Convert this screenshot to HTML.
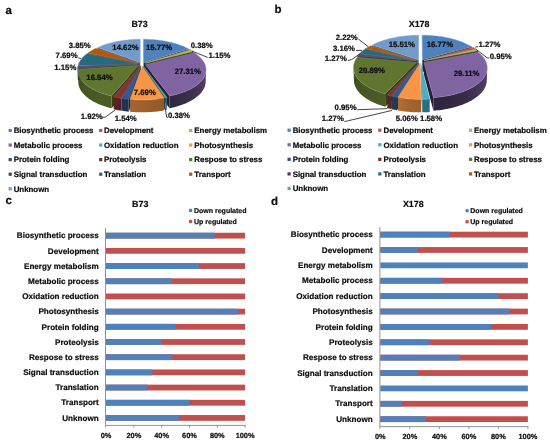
<!DOCTYPE html>
<html><head><meta charset="utf-8"><title>Figure</title>
<style>html,body{margin:0;padding:0;background:#fff}svg{display:block;filter:blur(0.35px)}text{stroke:#0c0c0c;stroke-width:.2px;text-rendering:geometricPrecision}</style></head>
<body>
<svg width="550" height="444" viewBox="0 0 550 444" font-family="'Liberation Sans', sans-serif" font-weight="bold" fill="#0c0c0c">
<defs><linearGradient id="wa3_26" gradientUnits="userSpaceOnUse" x1="206.06" y1="0" x2="169.63" y2="0"><stop offset="0" stop-color="#56436d"/><stop offset="0.04" stop-color="#4f3e64"/><stop offset="0.17" stop-color="#48385b"/><stop offset="0.37" stop-color="#3f3150"/><stop offset="0.65" stop-color="#372b45"/><stop offset="1" stop-color="#322740"/></linearGradient>
<linearGradient id="wa8_0" gradientUnits="userSpaceOnUse" x1="111.47" y1="0" x2="77.94" y2="0"><stop offset="0" stop-color="#4a5b25"/><stop offset="0.35" stop-color="#4a5b25"/><stop offset="0.63" stop-color="#475724"/><stop offset="0.83" stop-color="#445422"/><stop offset="0.95" stop-color="#404e20"/><stop offset="1" stop-color="#3b491e"/></linearGradient>
<linearGradient id="wa7_0" gradientUnits="userSpaceOnUse" x1="121.48" y1="0" x2="113.5" y2="0"><stop offset="0" stop-color="#551f1e"/><stop offset="0.51" stop-color="#59211f"/><stop offset="1" stop-color="#5c2221"/></linearGradient>
<linearGradient id="wa5_0" gradientUnits="userSpaceOnUse" x1="164.29" y1="0" x2="130.03" y2="0"><stop offset="0" stop-color="#93592a"/><stop offset="0.32" stop-color="#985d2b"/><stop offset="0.66" stop-color="#9f602d"/><stop offset="1" stop-color="#a5642f"/></linearGradient>
<linearGradient id="wb8_0" gradientUnits="userSpaceOnUse" x1="385.08" y1="0" x2="353.5" y2="0"><stop offset="0" stop-color="#4c5e26"/><stop offset="0.35" stop-color="#495a25"/><stop offset="0.64" stop-color="#465724"/><stop offset="0.84" stop-color="#435322"/><stop offset="0.96" stop-color="#3f4e20"/><stop offset="1" stop-color="#3b491e"/></linearGradient>
<linearGradient id="wb3_22" gradientUnits="userSpaceOnUse" x1="487.21" y1="0" x2="433.5" y2="0"><stop offset="0" stop-color="#56436d"/><stop offset="0.03" stop-color="#4f3d64"/><stop offset="0.12" stop-color="#48385b"/><stop offset="0.27" stop-color="#3f3150"/><stop offset="0.47" stop-color="#362a45"/><stop offset="0.72" stop-color="#322740"/><stop offset="1" stop-color="#2f243b"/></linearGradient>
<linearGradient id="wb5_0" gradientUnits="userSpaceOnUse" x1="421.26" y1="0" x2="397.84" y2="0"><stop offset="0" stop-color="#9e602d"/><stop offset="0.51" stop-color="#a4642e"/><stop offset="1" stop-color="#b56e33"/></linearGradient></defs>
<rect width="550" height="444" fill="#fff"/>
<text x="5.4" y="13.6" font-size="11.5">a</text>
<text x="274.4" y="13.1" font-size="11.5">b</text>
<text x="5.6" y="204.1" font-size="11.5">c</text>
<text x="270.9" y="205.3" font-size="11.5">d</text>
<g><polygon points="140.1,62.51 97.73,47.56 98,58.61 140.11,73.99" fill="#3f556f"/>
<polygon points="140.1,62.51 140.34,39.25 140.35,50.05 140.11,73.99" fill="#222e3d"/>
<polygon points="140.1,62.51 97.73,47.56 98.7,47.11 99.7,46.67 100.7,46.25 101.73,45.84 102.77,45.43 103.83,45.05 104.91,44.67 106,44.31 107.1,43.95 108.22,43.61 109.35,43.29 110.49,42.97 111.65,42.67 112.82,42.38 113.99,42.1 115.18,41.84 116.38,41.59 117.59,41.35 118.81,41.12 120.03,40.91 121.26,40.71 122.5,40.52 123.75,40.35 125,40.18 126.26,40.03 127.53,39.9 128.79,39.77 130.07,39.66 131.34,39.57 132.62,39.48 133.91,39.41 135.19,39.35 136.48,39.31 137.77,39.27 139.05,39.26 140.34,39.25" fill="#729ACA" stroke="#91b0d6" stroke-width="0.45" stroke-linejoin="round"/>
<polygon points="143.62,62.53 143.36,39.27 143.35,50.08 143.61,74.02" fill="#2b4768"/>
<polygon points="143.62,62.53 188.64,48.91 188.35,60.01 143.61,74.02" fill="#182739"/>
<polygon points="143.62,62.53 143.36,39.27 144.68,39.28 146,39.3 147.31,39.33 148.63,39.38 149.94,39.44 151.25,39.51 152.56,39.6 153.86,39.7 155.16,39.82 156.46,39.95 157.75,40.09 159.04,40.25 160.31,40.42 161.59,40.6 162.85,40.79 164.11,41 165.36,41.23 166.6,41.46 167.83,41.71 169.05,41.98 170.26,42.25 171.46,42.54 172.65,42.84 173.82,43.16 174.98,43.49 176.13,43.83 177.27,44.18 178.39,44.55 179.49,44.93 180.58,45.32 181.65,45.73 182.71,46.15 183.74,46.58 184.76,47.02 185.76,47.48 186.74,47.94 187.7,48.42 188.64,48.91" fill="#4F81BD" stroke="#769dcc" stroke-width="0.45" stroke-linejoin="round"/>
<polygon points="145.04,63.14 190.94,49.89 190.64,61.01 145.02,74.65" fill="#3a1817"/>
<polygon points="145.04,63.14 190.09,49.42 190.51,49.65 190.94,49.89" fill="#C0504D" stroke="#ce7674" stroke-width="0.45" stroke-linejoin="round"/>
<polygon points="138.49,63.2 87.84,52.97 88.16,64.19 138.51,74.7" fill="#643004"/>
<polygon points="138.49,63.2 87.84,52.97 88.57,52.44 89.33,51.92 90.11,51.41 90.9,50.92 91.72,50.43 92.56,49.94 93.42,49.47 94.29,49.02 95.19,48.57 96.1,48.13" fill="#B65708" stroke="#c67c3e" stroke-width="0.45" stroke-linejoin="round"/>
<polygon points="145.14,63.21 193.49,51.41 193.18,62.58 145.12,74.72" fill="#2e381b"/>
<polygon points="145.14,63.21 191.04,49.95 191.88,50.43 192.69,50.91 193.49,51.41" fill="#9BBB59" stroke="#b1ca7e" stroke-width="0.45" stroke-linejoin="round"/>
<polygon points="138,63.8 78.04,65.83 78.42,77.42 138.02,75.32" fill="#153a44"/>
<polygon points="138,63.8 78.04,65.83 78.22,65.12 78.44,64.41 78.69,63.71 78.98,63.01 79.31,62.32 79.67,61.64 80.06,60.96 80.49,60.29 80.95,59.63 81.44,58.98 81.97,58.33 82.52,57.7 83.11,57.07 83.72,56.45 84.36,55.84 85.03,55.24 85.73,54.65 86.46,54.07 87.21,53.5" fill="#276A7C" stroke="#578b99" stroke-width="0.45" stroke-linejoin="round"/>
<polygon points="137.95,64.3 77.5,68.41 77.89,80.06 137.98,75.83" fill="#2a2036"/>
<polygon points="137.95,64.3 77.5,68.41 77.57,67.71 77.67,67.03 77.81,66.34" fill="#5a4573" stroke="#746685" stroke-width="0.45" stroke-linejoin="round"/>
<polygon points="145.41,64.76 169.63,95.97 169.46,108.35 145.39,76.31" fill="#261e31"/>
<polygon points="206.06,70.26 206.01,71.02 205.93,71.78 205.8,72.55 205.62,73.31 205.4,74.08 205.14,74.85 204.83,75.61 204.47,76.38 204.07,77.14 203.63,77.9 203.13,78.66 202.59,79.41 202.01,80.16 201.37,80.9 200.69,81.64 199.96,82.37 199.19,83.09 198.37,83.81 197.5,84.51 196.59,85.21 195.63,85.89 194.63,86.57 193.58,87.23 192.48,87.88 191.34,88.52 190.16,89.14 188.94,89.75 187.68,90.34 186.37,90.92 185.02,91.48 183.64,92.02 182.22,92.54 180.76,93.04 179.26,93.53 177.73,93.99 176.17,94.43 174.58,94.85 172.96,95.25 171.31,95.62 169.63,95.97 169.46,108.35 171.13,107.99 172.77,107.61 174.38,107.2 175.97,106.77 177.52,106.31 179.04,105.84 180.52,105.35 181.97,104.83 183.39,104.29 184.76,103.74 186.1,103.17 187.4,102.58 188.66,101.97 189.87,101.35 191.05,100.71 192.18,100.05 193.27,99.39 194.31,98.71 195.31,98.01 196.26,97.31 197.17,96.6 198.03,95.87 198.85,95.14 199.62,94.39 200.34,93.64 201.02,92.89 201.64,92.13 202.23,91.36 202.77,90.58 203.26,89.81 203.7,89.03 204.1,88.24 204.45,87.46 204.76,86.67 205.02,85.89 205.24,85.1 205.41,84.31 205.54,83.53 205.63,82.74 205.67,81.96" fill="url(#wa3_26)"/>
<polygon points="145.41,64.76 194.17,52.74 195.01,53.3 195.83,53.87 196.62,54.45 197.39,55.04 198.13,55.64 198.84,56.25 199.53,56.88 200.18,57.51 200.8,58.15 201.39,58.8 201.95,59.46 202.48,60.13 202.98,60.81 203.44,61.5 203.86,62.19 204.25,62.9 204.61,63.61 204.92,64.32 205.2,65.05 205.45,65.78 205.65,66.51 205.81,67.25 205.94,68 206.02,68.75 206.06,69.5 206.06,70.26 206.01,71.02 205.93,71.78 205.8,72.55 205.62,73.31 205.4,74.08 205.14,74.85 204.83,75.61 204.47,76.38 204.07,77.14 203.63,77.9 203.13,78.66 202.59,79.41 202.01,80.16 201.37,80.9 200.69,81.64 199.96,82.37 199.19,83.09 198.37,83.81 197.5,84.51 196.59,85.21 195.63,85.89 194.63,86.57 193.58,87.23 192.48,87.88 191.34,88.52 190.16,89.14 188.94,89.75 187.68,90.34 186.37,90.92 185.02,91.48 183.64,92.02 182.22,92.54 180.76,93.04 179.26,93.53 177.73,93.99 176.17,94.43 174.58,94.85 172.96,95.25 171.31,95.62 169.63,95.97" fill="#8064A2" stroke="#9c86b6" stroke-width="0.45" stroke-linejoin="round"/>
<polygon points="138.74,65.22 111.47,95.95 111.65,108.33 138.76,76.78" fill="#34401a"/>
<polygon points="111.47,95.95 109.84,95.55 108.24,95.14 106.66,94.7 105.13,94.23 103.62,93.75 102.15,93.25 100.72,92.73 99.32,92.19 97.96,91.63 96.65,91.05 95.37,90.46 94.13,89.85 92.94,89.23 91.79,88.59 90.69,87.94 89.62,87.27 88.61,86.59 87.64,85.91 86.71,85.21 85.83,84.5 85,83.78 84.21,83.06 83.47,82.32 82.78,81.58 82.14,80.84 81.54,80.09 80.99,79.33 80.48,78.57 80.02,77.81 79.61,77.04 79.24,76.27 78.92,75.5 78.65,74.73 78.42,73.96 78.23,73.19 78.09,72.42 78,71.66 77.94,70.89 78.33,82.61 78.38,83.4 78.48,84.19 78.62,84.98 78.8,85.77 79.03,86.56 79.3,87.35 79.62,88.14 79.98,88.93 80.39,89.71 80.85,90.5 81.35,91.28 81.9,92.05 82.49,92.82 83.14,93.59 83.82,94.35 84.56,95.1 85.34,95.85 86.17,96.58 87.04,97.31 87.96,98.03 88.93,98.73 89.94,99.43 90.99,100.11 92.09,100.78 93.23,101.43 94.42,102.07 95.65,102.69 96.92,103.3 98.23,103.89 99.58,104.47 100.96,105.02 102.39,105.56 103.85,106.07 105.35,106.57 106.88,107.04 108.44,107.49 110.03,107.92 111.65,108.33" fill="url(#wa8_0)"/>
<polygon points="138.74,65.22 111.47,95.95 109.84,95.55 108.24,95.14 106.66,94.7 105.13,94.23 103.62,93.75 102.15,93.25 100.72,92.73 99.32,92.19 97.96,91.63 96.65,91.05 95.37,90.46 94.13,89.85 92.94,89.23 91.79,88.59 90.69,87.94 89.62,87.27 88.61,86.59 87.64,85.91 86.71,85.21 85.83,84.5 85,83.78 84.21,83.06 83.47,82.32 82.78,81.58 82.14,80.84 81.54,80.09 80.99,79.33 80.48,78.57 80.02,77.81 79.61,77.04 79.24,76.27 78.92,75.5 78.65,74.73 78.42,73.96 78.23,73.19 78.09,72.42 78,71.66 77.94,70.89 77.93,70.13 77.96,69.37" fill="#5F7530" stroke="#82935e" stroke-width="0.45" stroke-linejoin="round"/>
<polygon points="143.05,65.82 165.43,97.78 165.28,110.2 143.04,77.4" fill="#16343b"/>
<polygon points="167.01,97.47 166.22,97.63 165.43,97.78 165.28,110.2 166.07,110.04 166.85,109.88" fill="#2d6676"/>
<polygon points="143.05,65.82 167.01,97.47 166.22,97.63 165.43,97.78" fill="#4BACC6" stroke="#73bed3" stroke-width="0.45" stroke-linejoin="round"/>
<polygon points="140.55,65.82 121.48,98.34 121.6,110.77 140.56,77.4" fill="#411817"/>
<polygon points="121.48,98.34 119.84,98.07 118.23,97.79 116.63,97.48 115.06,97.15 113.5,96.8 113.67,109.19 115.22,109.55 116.78,109.89 118.37,110.21 119.98,110.5 121.6,110.77" fill="url(#wa7_0)"/>
<polygon points="140.55,65.82 121.48,98.34 119.84,98.07 118.23,97.79 116.63,97.48 115.06,97.15 113.5,96.8" fill="#8a3230" stroke="#955a59" stroke-width="0.45" stroke-linejoin="round"/>
<polygon points="140.96,65.87 128.69,99.26 128.76,111.72 140.96,77.46" fill="#182a40"/>
<polygon points="128.69,99.26 126.98,99.08 125.29,98.88 123.62,98.66 121.96,98.42 122.08,110.85 123.73,111.1 125.39,111.33 127.07,111.54 128.76,111.72" fill="#1e3551"/>
<polygon points="140.96,65.87 128.69,99.26 126.98,99.08 125.29,98.88 123.62,98.66 121.96,98.42" fill="#305a93" stroke="#5a7493" stroke-width="0.45" stroke-linejoin="round"/>
<polygon points="164.29,97.91 162.58,98.21 160.85,98.49 159.11,98.75 157.34,98.98 155.56,99.18 153.77,99.36 151.96,99.51 150.15,99.64 148.32,99.74 146.49,99.82 144.65,99.87 142.82,99.89 140.98,99.89 139.14,99.86 137.3,99.8 135.47,99.72 133.65,99.61 131.84,99.48 130.03,99.31 130.1,111.77 131.9,111.94 133.7,112.08 135.51,112.19 137.33,112.27 139.15,112.33 140.98,112.36 142.81,112.36 144.64,112.34 146.46,112.29 148.28,112.21 150.1,112.11 151.9,111.98 153.7,111.82 155.48,111.64 157.25,111.43 159,111.19 160.74,110.93 162.46,110.64 164.15,110.33" fill="url(#wa5_0)"/>
<polygon points="142.08,65.91 164.29,97.91 162.58,98.21 160.85,98.49 159.11,98.75 157.34,98.98 155.56,99.18 153.77,99.36 151.96,99.51 150.15,99.64 148.32,99.74 146.49,99.82 144.65,99.87 142.82,99.89 140.98,99.89 139.14,99.86 137.3,99.8 135.47,99.72 133.65,99.61 131.84,99.48 130.03,99.31" fill="#F79646" stroke="#f9ad6f" stroke-width="0.45" stroke-linejoin="round"/></g>
<g><polygon points="418.53,59.79 372.18,45.06 372.47,56.74 418.54,71.89" fill="#3f556f"/>
<polygon points="418.53,59.79 418.8,35.19 418.81,46.58 418.54,71.89" fill="#222e3d"/>
<polygon points="418.53,59.79 372.18,45.06 373.16,44.56 374.15,44.07 375.17,43.59 376.21,43.12 377.26,42.67 378.33,42.23 379.42,41.8 380.53,41.38 381.66,40.98 382.8,40.59 383.95,40.22 385.12,39.85 386.31,39.51 387.51,39.17 388.72,38.85 389.94,38.54 391.17,38.24 392.42,37.96 393.67,37.69 394.94,37.43 396.21,37.19 397.5,36.96 398.79,36.75 400.09,36.55 401.4,36.36 402.71,36.19 404.03,36.03 405.35,35.89 406.68,35.75 408.02,35.64 409.36,35.53 410.7,35.44 412.04,35.36 413.39,35.3 414.74,35.25 416.09,35.22 417.44,35.2 418.8,35.19" fill="#729ACA" stroke="#91b0d6" stroke-width="0.45" stroke-linejoin="round"/>
<polygon points="422.41,59.82 422.12,35.22 422.11,46.61 422.4,71.93" fill="#2b4768"/>
<polygon points="422.41,59.82 471.62,46.72 471.31,58.45 422.4,71.93" fill="#182739"/>
<polygon points="422.41,59.82 422.12,35.22 423.48,35.22 424.83,35.25 426.19,35.28 427.54,35.33 428.89,35.39 430.24,35.47 431.58,35.56 432.92,35.66 434.26,35.78 435.6,35.91 436.92,36.06 438.25,36.22 439.56,36.39 440.87,36.58 442.18,36.78 443.47,37 444.76,37.23 446.03,37.47 447.3,37.73 448.56,38 449.81,38.28 451.05,38.58 452.27,38.89 453.48,39.21 454.68,39.55 455.87,39.9 457.04,40.27 458.2,40.64 459.34,41.04 460.47,41.44 461.58,41.86 462.67,42.29 463.75,42.73 464.8,43.18 465.84,43.65 466.86,44.13 467.85,44.63 468.83,45.13 469.78,45.65 470.71,46.18 471.62,46.72" fill="#4F81BD" stroke="#769dcc" stroke-width="0.45" stroke-linejoin="round"/>
<polygon points="416.93,60.5 365.6,48.62 365.93,60.41 416.96,72.63" fill="#643004"/>
<polygon points="416.93,60.5 365.6,48.62 366.37,48.11 367.17,47.6 367.99,47.1 368.82,46.61 369.68,46.13 370.55,45.66" fill="#B65708" stroke="#c67c3e" stroke-width="0.45" stroke-linejoin="round"/>
<polygon points="423.96,60.58 475.95,49.14 475.62,60.94 423.94,72.71" fill="#3a1817"/>
<polygon points="423.96,60.58 473.26,47.37 473.95,47.8 474.63,48.24 475.3,48.68 475.95,49.14" fill="#C0504D" stroke="#ce7674" stroke-width="0.45" stroke-linejoin="round"/>
<polygon points="424.08,60.7 477.95,50.64 477.6,62.48 424.06,72.83" fill="#2e381b"/>
<polygon points="424.08,60.7 476.1,49.24 476.73,49.7 477.35,50.16 477.95,50.64" fill="#9BBB59" stroke="#b1ca7e" stroke-width="0.45" stroke-linejoin="round"/>
<polygon points="416.64,60.79 359.5,53.68 359.87,65.62 416.66,72.92" fill="#153a44"/>
<polygon points="416.64,60.79 359.5,53.68 360.13,53.05 360.78,52.42 361.46,51.81 362.16,51.2 362.89,50.6 363.65,50.02 364.44,49.44 365.24,48.87" fill="#276A7C" stroke="#578b99" stroke-width="0.45" stroke-linejoin="round"/>
<polygon points="416.48,61.04 357.46,56.02 357.84,68.02 416.5,73.18" fill="#2a2036"/>
<polygon points="416.48,61.04 357.46,56.02 357.88,55.49 358.32,54.96 358.79,54.43 359.27,53.92" fill="#5a4573" stroke="#746685" stroke-width="0.45" stroke-linejoin="round"/>
<polygon points="416.8,62.33 385.08,93.82 385.29,106.83 416.82,74.5" fill="#34401a"/>
<polygon points="385.08,93.82 383.46,93.37 381.87,92.89 380.32,92.39 378.81,91.87 377.33,91.32 375.88,90.76 374.48,90.18 373.12,89.58 371.8,88.97 370.52,88.34 369.29,87.69 368.1,87.03 366.95,86.35 365.85,85.66 364.79,84.96 363.79,84.25 362.82,83.52 361.91,82.78 361.04,82.04 360.22,81.29 359.44,80.52 358.72,79.75 358.04,78.98 357.41,78.2 356.83,77.41 356.3,76.62 355.81,75.82 355.37,75.03 354.98,74.23 354.63,73.42 354.33,72.62 354.08,71.82 353.88,71.02 353.71,70.22 353.6,69.42 353.53,68.62 353.5,67.82 353.9,80.15 353.93,80.97 354,81.79 354.11,82.61 354.27,83.43 354.48,84.25 354.73,85.08 355.03,85.9 355.37,86.72 355.76,87.55 356.2,88.36 356.68,89.18 357.21,89.99 357.79,90.8 358.42,91.6 359.09,92.4 359.81,93.19 360.58,93.97 361.4,94.74 362.26,95.51 363.17,96.26 364.13,97.01 365.13,97.74 366.18,98.46 367.27,99.17 368.41,99.86 369.6,100.54 370.82,101.2 372.09,101.85 373.4,102.48 374.76,103.09 376.15,103.69 377.58,104.26 379.06,104.82 380.56,105.35 382.11,105.87 383.68,106.36 385.29,106.83" fill="url(#wb8_0)"/>
<polygon points="416.8,62.33 385.08,93.82 383.46,93.37 381.87,92.89 380.32,92.39 378.81,91.87 377.33,91.32 375.88,90.76 374.48,90.18 373.12,89.58 371.8,88.97 370.52,88.34 369.29,87.69 368.1,87.03 366.95,86.35 365.85,85.66 364.79,84.96 363.79,84.25 362.82,83.52 361.91,82.78 361.04,82.04 360.22,81.29 359.44,80.52 358.72,79.75 358.04,78.98 357.41,78.2 356.83,77.41 356.3,76.62 355.81,75.82 355.37,75.03 354.98,74.23 354.63,73.42 354.33,72.62 354.08,71.82 353.88,71.02 353.71,70.22 353.6,69.42 353.53,68.62 353.5,67.82 353.51,67.03 353.57,66.24 353.67,65.46 353.81,64.68 353.99,63.9 354.21,63.14 354.48,62.37 354.78,61.62 355.12,60.87 355.49,60.13 355.91,59.39 356.35,58.67 356.84,57.95 357.36,57.24" fill="#5F7530" stroke="#82935e" stroke-width="0.45" stroke-linejoin="round"/>
<polygon points="423.88,62.43 433.5,97.59 433.43,110.68 423.86,74.6" fill="#261e31"/>
<polygon points="487.21,68.4 487.15,69.21 487.05,70.03 486.9,70.84 486.71,71.65 486.47,72.47 486.18,73.29 485.84,74.1 485.46,74.91 485.03,75.73 484.54,76.53 484.01,77.34 483.43,78.14 482.8,78.94 482.12,79.73 481.39,80.51 480.62,81.29 479.79,82.05 478.91,82.81 477.99,83.56 477.02,84.3 476,85.03 474.93,85.74 473.81,86.44 472.65,87.13 471.44,87.81 470.18,88.46 468.89,89.11 467.54,89.73 466.16,90.34 464.73,90.93 463.27,91.5 461.76,92.05 460.21,92.57 458.63,93.08 457.02,93.57 455.36,94.03 453.68,94.47 451.97,94.88 450.22,95.27 448.45,95.63 446.65,95.97 444.83,96.28 442.99,96.57 441.12,96.83 439.24,97.06 437.34,97.26 435.43,97.44 433.5,97.59 433.43,110.68 435.34,110.53 437.24,110.35 439.13,110.14 441,109.91 442.85,109.64 444.69,109.35 446.5,109.03 448.28,108.68 450.04,108.31 451.78,107.91 453.48,107.49 455.16,107.04 456.8,106.56 458.4,106.07 459.98,105.55 461.51,105 463.01,104.44 464.47,103.86 465.88,103.25 467.26,102.63 468.59,101.99 469.89,101.33 471.13,100.66 472.33,99.97 473.49,99.26 474.6,98.54 475.66,97.81 476.68,97.06 477.64,96.3 478.56,95.54 479.43,94.76 480.26,93.97 481.03,93.17 481.75,92.37 482.43,91.56 483.05,90.74 483.63,89.92 484.16,89.09 484.64,88.26 485.07,87.43 485.45,86.6 485.79,85.76 486.07,84.92 486.31,84.08 486.51,83.25 486.65,82.41 486.75,81.58 486.81,80.74" fill="url(#wb3_22)"/>
<polygon points="423.88,62.43 478.26,52.17 479.03,52.81 479.78,53.46 480.49,54.13 481.17,54.8 481.82,55.49 482.44,56.18 483.02,56.89 483.57,57.6 484.08,58.33 484.56,59.06 485,59.8 485.4,60.55 485.77,61.31 486.09,62.07 486.38,62.84 486.62,63.62 486.83,64.41 486.99,65.2 487.11,65.99 487.19,66.79 487.22,67.6 487.21,68.4 487.15,69.21 487.05,70.03 486.9,70.84 486.71,71.65 486.47,72.47 486.18,73.29 485.84,74.1 485.46,74.91 485.03,75.73 484.54,76.53 484.01,77.34 483.43,78.14 482.8,78.94 482.12,79.73 481.39,80.51 480.62,81.29 479.79,82.05 478.91,82.81 477.99,83.56 477.02,84.3 476,85.03 474.93,85.74 473.81,86.44 472.65,87.13 471.44,87.81 470.18,88.46 468.89,89.11 467.54,89.73 466.16,90.34 464.73,90.93 463.27,91.5 461.76,92.05 460.21,92.57 458.63,93.08 457.02,93.57 455.36,94.03 453.68,94.47 451.97,94.88 450.22,95.27 448.45,95.63 446.65,95.97 444.83,96.28 442.99,96.57 441.12,96.83 439.24,97.06 437.34,97.26 435.43,97.44 433.5,97.59" fill="#8064A2" stroke="#9c86b6" stroke-width="0.45" stroke-linejoin="round"/>
<polygon points="418.79,63.21 391.15,96.04 391.32,109.1 418.8,75.41" fill="#411817"/>
<polygon points="391.15,96.04 389.83,95.72 388.52,95.4 387.24,95.05 387.44,108.09 388.71,108.44 390.01,108.77 391.32,109.1" fill="#5d2321"/>
<polygon points="418.79,63.21 391.15,96.04 389.83,95.72 388.52,95.4 387.24,95.05" fill="#8a3230" stroke="#955a59" stroke-width="0.45" stroke-linejoin="round"/>
<polygon points="419.05,63.26 396.92,97.22 397.06,110.31 419.06,75.46" fill="#182a40"/>
<polygon points="396.92,97.22 395.53,96.96 394.15,96.69 392.79,96.41 391.45,96.11 391.63,109.17 392.96,109.47 394.31,109.77 395.68,110.04 397.06,110.31" fill="#213a58"/>
<polygon points="419.05,63.26 396.92,97.22 395.53,96.96 394.15,96.69 392.79,96.41 391.45,96.11" fill="#305a93" stroke="#5a7493" stroke-width="0.45" stroke-linejoin="round"/>
<polygon points="420.69,63.36 422.28,99.24 422.27,112.37 420.68,75.57" fill="#16343b"/>
<polygon points="429.73,98.94 427.87,99.05 426.01,99.14 424.15,99.2 422.28,99.24 422.27,112.37 424.13,112.34 425.98,112.27 427.83,112.18 429.67,112.07" fill="#2f6c7d"/>
<polygon points="420.69,63.36 429.73,98.94 427.87,99.05 426.01,99.14 424.15,99.2 422.28,99.24" fill="#4BACC6" stroke="#73bed3" stroke-width="0.45" stroke-linejoin="round"/>
<polygon points="421.26,99.22 419.42,99.22 417.58,99.21 415.74,99.16 413.9,99.1 412.07,99 410.25,98.88 408.43,98.74 406.63,98.57 404.84,98.37 403.07,98.15 401.31,97.91 399.56,97.64 397.84,97.35 397.97,110.44 399.69,110.74 401.42,111.01 403.17,111.26 404.93,111.49 406.71,111.69 408.51,111.86 410.31,112.01 412.12,112.13 413.94,112.23 415.77,112.3 417.59,112.34 419.43,112.36 421.26,112.35" fill="url(#wb5_0)"/>
<polygon points="419.84,63.35 421.26,99.22 419.42,99.22 417.58,99.21 415.74,99.16 413.9,99.1 412.07,99 410.25,98.88 408.43,98.74 406.63,98.57 404.84,98.37 403.07,98.15 401.31,97.91 399.56,97.64 397.84,97.35" fill="#F79646" stroke="#f9ad6f" stroke-width="0.45" stroke-linejoin="round"/></g>
<text x="139.6" y="26.9" font-size="8.9" text-anchor="middle">B73</text>
<text x="419.1" y="26.5" font-size="8.9" text-anchor="middle">X178</text>
<text x="140.2" y="207.4" font-size="8.9" text-anchor="middle">B73</text>
<text x="413.3" y="206.8" font-size="8.9" text-anchor="middle">X178</text>
<text x="159.1" y="49.95" font-size="7.75" text-anchor="middle">15.77%</text>
<text x="125.5" y="49.85" font-size="7.75" text-anchor="middle">14.62%</text>
<text x="201.7" y="47.75" font-size="7.75" text-anchor="middle">0.38%</text>
<text x="219.5" y="57.95" font-size="7.75" text-anchor="middle">1.15%</text>
<text x="187.8" y="74.15" font-size="7.75" text-anchor="middle">27.31%</text>
<text x="144.8" y="94.55" font-size="7.75" text-anchor="middle">7.69%</text>
<text x="179" y="118.05" font-size="7.75" text-anchor="middle">0.38%</text>
<text x="125.7" y="121.25" font-size="7.75" text-anchor="middle">1.54%</text>
<text x="91.7" y="118.65" font-size="7.75" text-anchor="middle">1.92%</text>
<text x="99.5" y="80.05" font-size="7.75" text-anchor="middle">16.54%</text>
<text x="65.3" y="70.45" font-size="7.75" text-anchor="middle">1.15%</text>
<text x="66.6" y="58.25" font-size="7.75" text-anchor="middle">7.69%</text>
<text x="79.7" y="48.35" font-size="7.75" text-anchor="middle">3.85%</text>
<text x="439.9" y="47.35" font-size="7.75" text-anchor="middle">16.77%</text>
<text x="401.8" y="47.35" font-size="7.75" text-anchor="middle">15.51%</text>
<text x="489.5" y="47.45" font-size="7.75" text-anchor="middle">1.27%</text>
<text x="500.7" y="58.95" font-size="7.75" text-anchor="middle">0.95%</text>
<text x="466.6" y="75.55" font-size="7.75" text-anchor="middle">29.11%</text>
<text x="406.8" y="120.95" font-size="7.75" text-anchor="middle">5.06%</text>
<text x="431.1" y="120.95" font-size="7.75" text-anchor="middle">1.58%</text>
<text x="345.6" y="109.55" font-size="7.75" text-anchor="middle">0.95%</text>
<text x="332.8" y="121.35" font-size="7.75" text-anchor="middle">1.27%</text>
<text x="371.8" y="73.45" font-size="7.75" text-anchor="middle">20.89%</text>
<text x="335.8" y="60.75" font-size="7.75" text-anchor="middle">1.27%</text>
<text x="344" y="50.95" font-size="7.75" text-anchor="middle">3.16%</text>
<text x="346.7" y="40.05" font-size="7.75" text-anchor="middle">2.22%</text>
<polyline points="191.9,51.1 207.7,57.4" fill="none" stroke="#303030" stroke-width="0.9"/>
<polyline points="78.1,57.9 81,58.5" fill="none" stroke="#303030" stroke-width="0.9"/>
<polyline points="102.3,117.5 105.5,117 115.4,109.8" fill="none" stroke="#303030" stroke-width="0.9"/>
<polyline points="165.3,108.5 166.6,117.1 168,117.4" fill="none" stroke="#303030" stroke-width="0.9"/>
<polyline points="358.2,38.9 368,46.5" fill="none" stroke="#303030" stroke-width="0.9"/>
<polyline points="356,50.4 362,50.4" fill="none" stroke="#303030" stroke-width="0.9"/>
<polyline points="347.8,60.5 351.6,59.6 360.4,53.6" fill="none" stroke="#303030" stroke-width="0.9"/>
<polyline points="357.4,109.7 386.2,108.7 388.6,106.8" fill="none" stroke="#303030" stroke-width="0.9"/>
<polyline points="344.3,121.5 347.2,121 392.1,110.4" fill="none" stroke="#303030" stroke-width="0.9"/>
<polyline points="475.2,47.2 478.1,46.6" fill="none" stroke="#303030" stroke-width="0.9"/>
<polyline points="475.7,49.1 487.2,57.8 489.4,58" fill="none" stroke="#303030" stroke-width="0.9"/>
<rect x="8.6" y="128.9" width="3.2" height="3.2" fill="#4F81BD"/>
<text x="13.65" y="133.3" font-size="7.9">Biosynthetic process</text>
<rect x="99.1" y="128.9" width="3.2" height="3.2" fill="#C0504D"/>
<text x="103.95" y="133.3" font-size="7.9">Development</text>
<rect x="189.1" y="128.9" width="3.2" height="3.2" fill="#9BBB59"/>
<text x="194.35" y="133.3" font-size="7.9">Energy metabolism</text>
<rect x="8.6" y="143.47" width="3.2" height="3.2" fill="#8064A2"/>
<text x="13.65" y="147.87" font-size="7.9">Metabolic process</text>
<rect x="99.1" y="143.47" width="3.2" height="3.2" fill="#4BACC6"/>
<text x="103.95" y="147.87" font-size="7.9">Oxidation reduction</text>
<rect x="189.1" y="143.47" width="3.2" height="3.2" fill="#F79646"/>
<text x="194.35" y="147.87" font-size="7.9">Photosynthesis</text>
<rect x="8.6" y="158.04" width="3.2" height="3.2" fill="#2C4D75"/>
<text x="13.65" y="162.44" font-size="7.9">Protein folding</text>
<rect x="99.1" y="158.04" width="3.2" height="3.2" fill="#772C2A"/>
<text x="103.95" y="162.44" font-size="7.9">Proteolysis</text>
<rect x="189.1" y="158.04" width="3.2" height="3.2" fill="#5F7530"/>
<text x="194.35" y="162.44" font-size="7.9">Respose to stress</text>
<rect x="8.6" y="172.61" width="3.2" height="3.2" fill="#4D3B62"/>
<text x="13.65" y="177.01" font-size="7.9">Signal transduction</text>
<rect x="99.1" y="172.61" width="3.2" height="3.2" fill="#276A7C"/>
<text x="103.95" y="177.01" font-size="7.9">Translation</text>
<rect x="189.1" y="172.61" width="3.2" height="3.2" fill="#B65708"/>
<text x="194.35" y="177.01" font-size="7.9">Transport</text>
<rect x="8.6" y="187.18" width="3.2" height="3.2" fill="#729ACA"/>
<text x="13.65" y="191.58" font-size="7.9">Unknown</text>
<rect x="287.5" y="128.6" width="3.2" height="3.2" fill="#4F81BD"/>
<text x="292.65" y="133" font-size="7.9">Biosynthetic process</text>
<rect x="378.2" y="128.6" width="3.2" height="3.2" fill="#C0504D"/>
<text x="383.45" y="133" font-size="7.9">Development</text>
<rect x="469" y="128.6" width="3.2" height="3.2" fill="#9BBB59"/>
<text x="473.95" y="133" font-size="7.9">Energy metabolism</text>
<rect x="287.5" y="143.17" width="3.2" height="3.2" fill="#8064A2"/>
<text x="292.65" y="147.57" font-size="7.9">Metabolic process</text>
<rect x="378.2" y="143.17" width="3.2" height="3.2" fill="#4BACC6"/>
<text x="383.45" y="147.57" font-size="7.9">Oxidation reduction</text>
<rect x="469" y="143.17" width="3.2" height="3.2" fill="#F79646"/>
<text x="473.95" y="147.57" font-size="7.9">Photosynthesis</text>
<rect x="287.5" y="157.74" width="3.2" height="3.2" fill="#2C4D75"/>
<text x="292.65" y="162.14" font-size="7.9">Protein folding</text>
<rect x="378.2" y="157.74" width="3.2" height="3.2" fill="#772C2A"/>
<text x="383.45" y="162.14" font-size="7.9">Proteolysis</text>
<rect x="469" y="157.74" width="3.2" height="3.2" fill="#5F7530"/>
<text x="473.95" y="162.14" font-size="7.9">Respose to stress</text>
<rect x="287.5" y="172.31" width="3.2" height="3.2" fill="#4D3B62"/>
<text x="292.65" y="176.71" font-size="7.9">Signal transduction</text>
<rect x="378.2" y="172.31" width="3.2" height="3.2" fill="#276A7C"/>
<text x="383.45" y="176.71" font-size="7.9">Translation</text>
<rect x="469" y="172.31" width="3.2" height="3.2" fill="#B65708"/>
<text x="473.95" y="176.71" font-size="7.9">Transport</text>
<rect x="287.5" y="186.88" width="3.2" height="3.2" fill="#729ACA"/>
<text x="292.65" y="191.28" font-size="7.9">Unknown</text>
<rect x="106" y="232.75" width="139.1" height="5.8" fill="#C0504D"/>
<rect x="106" y="232.75" width="108.57" height="5.8" fill="#4F81BD"/>
<text x="98.7" y="238.4" font-size="8.1" text-anchor="end">Biosynthetic process</text>
<rect x="106" y="247.94" width="139.1" height="5.8" fill="#C0504D"/>
<text x="98.7" y="253.59" font-size="8.1" text-anchor="end">Development</text>
<rect x="106" y="263.13" width="139.1" height="5.8" fill="#C0504D"/>
<rect x="106" y="263.13" width="92.78" height="5.8" fill="#4F81BD"/>
<text x="98.7" y="268.78" font-size="8.1" text-anchor="end">Energy metabolism</text>
<rect x="106" y="278.32" width="139.1" height="5.8" fill="#C0504D"/>
<rect x="106" y="278.32" width="65.66" height="5.8" fill="#4F81BD"/>
<text x="98.7" y="283.97" font-size="8.1" text-anchor="end">Metabolic process</text>
<rect x="106" y="293.51" width="139.1" height="5.8" fill="#C0504D"/>
<text x="98.7" y="299.16" font-size="8.1" text-anchor="end">Oxidation reduction</text>
<rect x="106" y="308.7" width="139.1" height="5.8" fill="#C0504D"/>
<rect x="106" y="308.7" width="132.15" height="5.8" fill="#4F81BD"/>
<text x="98.7" y="314.35" font-size="8.1" text-anchor="end">Photosynthesis</text>
<rect x="106" y="323.89" width="139.1" height="5.8" fill="#C0504D"/>
<rect x="106" y="323.89" width="69.55" height="5.8" fill="#4F81BD"/>
<text x="98.7" y="329.54" font-size="8.1" text-anchor="end">Protein folding</text>
<rect x="106" y="339.08" width="139.1" height="5.8" fill="#C0504D"/>
<rect x="106" y="339.08" width="55.64" height="5.8" fill="#4F81BD"/>
<text x="98.7" y="344.73" font-size="8.1" text-anchor="end">Proteolysis</text>
<rect x="106" y="354.27" width="139.1" height="5.8" fill="#C0504D"/>
<rect x="106" y="354.27" width="66.21" height="5.8" fill="#4F81BD"/>
<text x="98.7" y="359.92" font-size="8.1" text-anchor="end">Respose to stress</text>
<rect x="106" y="369.46" width="139.1" height="5.8" fill="#C0504D"/>
<rect x="106" y="369.46" width="46.32" height="5.8" fill="#4F81BD"/>
<text x="98.7" y="375.11" font-size="8.1" text-anchor="end">Signal transduction</text>
<rect x="106" y="384.65" width="139.1" height="5.8" fill="#C0504D"/>
<rect x="106" y="384.65" width="41.73" height="5.8" fill="#4F81BD"/>
<text x="98.7" y="390.3" font-size="8.1" text-anchor="end">Translation</text>
<rect x="106" y="399.84" width="139.1" height="5.8" fill="#C0504D"/>
<rect x="106" y="399.84" width="83.46" height="5.8" fill="#4F81BD"/>
<text x="98.7" y="405.49" font-size="8.1" text-anchor="end">Transport</text>
<rect x="106" y="415.03" width="139.1" height="5.8" fill="#C0504D"/>
<rect x="106" y="415.03" width="73.17" height="5.8" fill="#4F81BD"/>
<text x="98.7" y="420.68" font-size="8.1" text-anchor="end">Unknown</text>
<path d="M105.5 228.2V425.4H245.5" fill="none" stroke="#868686" stroke-width="0.9"/>
<path d="M105.5 425.4v2.2" stroke="#868686" stroke-width="0.9"/>
<text x="106" y="438.2" font-size="7.4" text-anchor="middle">0%</text>
<path d="M133.82 425.4v2.2" stroke="#868686" stroke-width="0.9"/>
<text x="133.82" y="438.2" font-size="7.4" text-anchor="middle">20%</text>
<path d="M161.64 425.4v2.2" stroke="#868686" stroke-width="0.9"/>
<text x="161.64" y="438.2" font-size="7.4" text-anchor="middle">40%</text>
<path d="M189.46 425.4v2.2" stroke="#868686" stroke-width="0.9"/>
<text x="189.46" y="438.2" font-size="7.4" text-anchor="middle">60%</text>
<path d="M217.28 425.4v2.2" stroke="#868686" stroke-width="0.9"/>
<text x="217.28" y="438.2" font-size="7.4" text-anchor="middle">80%</text>
<path d="M245.1 425.4v2.2" stroke="#868686" stroke-width="0.9"/>
<text x="245.1" y="438.2" font-size="7.4" text-anchor="middle">100%</text>
<rect x="189" y="208.8" width="3.2" height="3.2" fill="#4F81BD"/>
<text x="194" y="212.8" font-size="7">Down regulated</text>
<rect x="189" y="219.9" width="3.2" height="3.2" fill="#C0504D"/>
<text x="194" y="223.9" font-size="7">Up regulated</text>
<rect x="380.3" y="231.7" width="147.6" height="5.8" fill="#C0504D"/>
<rect x="380.3" y="231.7" width="69.67" height="5.8" fill="#4F81BD"/>
<text x="372.7" y="237.3" font-size="8.1" text-anchor="end">Biosynthetic process</text>
<rect x="380.3" y="247.08" width="147.6" height="5.8" fill="#C0504D"/>
<rect x="380.3" y="247.08" width="36.9" height="5.8" fill="#4F81BD"/>
<text x="372.7" y="252.68" font-size="8.1" text-anchor="end">Development</text>
<rect x="380.3" y="262.46" width="147.6" height="5.8" fill="#4F81BD"/>
<text x="372.7" y="268.06" font-size="8.1" text-anchor="end">Energy metabolism</text>
<rect x="380.3" y="277.84" width="147.6" height="5.8" fill="#C0504D"/>
<rect x="380.3" y="277.84" width="61.99" height="5.8" fill="#4F81BD"/>
<text x="372.7" y="283.44" font-size="8.1" text-anchor="end">Metabolic process</text>
<rect x="380.3" y="293.22" width="147.6" height="5.8" fill="#C0504D"/>
<rect x="380.3" y="293.22" width="118.08" height="5.8" fill="#4F81BD"/>
<text x="372.7" y="298.82" font-size="8.1" text-anchor="end">Oxidation reduction</text>
<rect x="380.3" y="308.6" width="147.6" height="5.8" fill="#C0504D"/>
<rect x="380.3" y="308.6" width="129.15" height="5.8" fill="#4F81BD"/>
<text x="372.7" y="314.2" font-size="8.1" text-anchor="end">Photosynthesis</text>
<rect x="380.3" y="323.98" width="147.6" height="5.8" fill="#C0504D"/>
<rect x="380.3" y="323.98" width="110.7" height="5.8" fill="#4F81BD"/>
<text x="372.7" y="329.58" font-size="8.1" text-anchor="end">Protein folding</text>
<rect x="380.3" y="339.36" width="147.6" height="5.8" fill="#C0504D"/>
<rect x="380.3" y="339.36" width="49.15" height="5.8" fill="#4F81BD"/>
<text x="372.7" y="344.96" font-size="8.1" text-anchor="end">Proteolysis</text>
<rect x="380.3" y="354.74" width="147.6" height="5.8" fill="#C0504D"/>
<rect x="380.3" y="354.74" width="79.7" height="5.8" fill="#4F81BD"/>
<text x="372.7" y="360.34" font-size="8.1" text-anchor="end">Respose to stress</text>
<rect x="380.3" y="370.12" width="147.6" height="5.8" fill="#C0504D"/>
<rect x="380.3" y="370.12" width="36.9" height="5.8" fill="#4F81BD"/>
<text x="372.7" y="375.72" font-size="8.1" text-anchor="end">Signal transduction</text>
<rect x="380.3" y="385.5" width="147.6" height="5.8" fill="#4F81BD"/>
<text x="372.7" y="391.1" font-size="8.1" text-anchor="end">Translation</text>
<rect x="380.3" y="400.88" width="147.6" height="5.8" fill="#C0504D"/>
<rect x="380.3" y="400.88" width="21.11" height="5.8" fill="#4F81BD"/>
<text x="372.7" y="406.48" font-size="8.1" text-anchor="end">Transport</text>
<rect x="380.3" y="416.26" width="147.6" height="5.8" fill="#C0504D"/>
<rect x="380.3" y="416.26" width="45.17" height="5.8" fill="#4F81BD"/>
<text x="372.7" y="421.86" font-size="8.1" text-anchor="end">Unknown</text>
<path d="M379.9 227.1V426.6H528.3" fill="none" stroke="#868686" stroke-width="0.9"/>
<path d="M379.9 426.6v2.2" stroke="#868686" stroke-width="0.9"/>
<text x="380.3" y="438.6" font-size="7.4" text-anchor="middle">0%</text>
<path d="M409.82 426.6v2.2" stroke="#868686" stroke-width="0.9"/>
<text x="409.82" y="438.6" font-size="7.4" text-anchor="middle">20%</text>
<path d="M439.34 426.6v2.2" stroke="#868686" stroke-width="0.9"/>
<text x="439.34" y="438.6" font-size="7.4" text-anchor="middle">40%</text>
<path d="M468.86 426.6v2.2" stroke="#868686" stroke-width="0.9"/>
<text x="468.86" y="438.6" font-size="7.4" text-anchor="middle">60%</text>
<path d="M498.38 426.6v2.2" stroke="#868686" stroke-width="0.9"/>
<text x="498.38" y="438.6" font-size="7.4" text-anchor="middle">80%</text>
<path d="M527.9 426.6v2.2" stroke="#868686" stroke-width="0.9"/>
<text x="527.9" y="438.6" font-size="7.4" text-anchor="middle">100%</text>
<rect x="465.5" y="209.1" width="3.2" height="3.2" fill="#4F81BD"/>
<text x="470.3" y="213.1" font-size="7">Down regulated</text>
<rect x="465.5" y="220.2" width="3.2" height="3.2" fill="#C0504D"/>
<text x="470.3" y="224.2" font-size="7">Up regulated</text>
</svg>
</body></html>
